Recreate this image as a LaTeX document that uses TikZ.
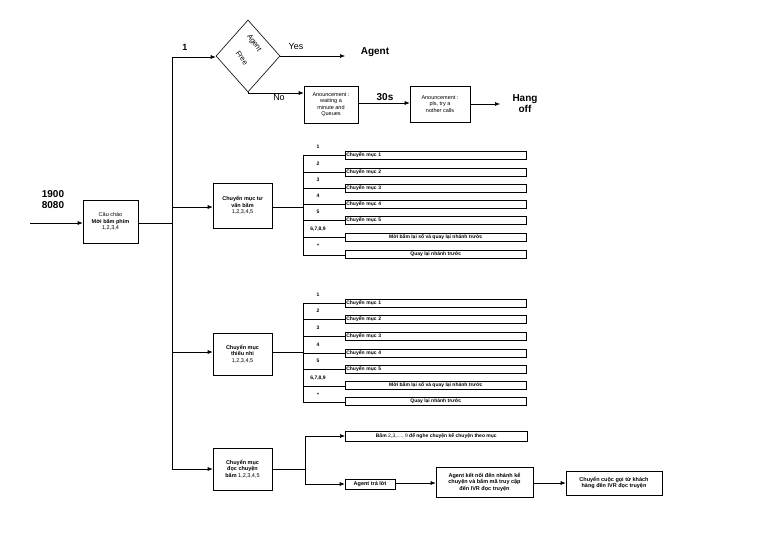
\documentclass[tikz,border=0pt]{standalone}
\usepackage{fontspec}
\setmainfont{Liberation Sans}
\usetikzlibrary{shapes.geometric,arrows.meta}
\begin{document}
\begin{tikzpicture}[x=1pt,y=-1pt,
  ln/.style={line width=0.6pt},
  ar/.style={ln,-{Latex[length=5pt,width=4pt]}},
  bx/.style={draw,line width=0.6pt,inner sep=1pt,align=center,font=\fontsize{5.5}{6.5}\selectfont},
  row/.style={draw,line width=0.6pt,minimum width=181,minimum height=8,inner sep=0pt,font=\fontsize{5}{5}\selectfont},
  big/.style={font=\bfseries\fontsize{10}{11}\selectfont,align=center},
  num/.style={font=\bfseries\fontsize{5}{5}\selectfont}]
\useasboundingbox (0,0) rectangle (768,543);
\node[big] (n1900) at (53,200) {1900\\8080};
\node[bx,minimum width=55,minimum height=43] (cau) at (110.5,221.5) {Câu chào\\\textbf{Mời bấm phím}\\1,2,3,4};
\coordinate (in) at (30,223);
\draw[ar] (in) -- (cau.west|-in);
\coordinate (t0) at (172,57); \coordinate (tm) at (172,223); \coordinate (t4) at (172,469);
\draw[ln] (cau.east|-tm) -- (tm);
\draw[ln] (t0) -- (t4);
% branch 1
\node[draw,diamond,line width=0.6pt,minimum width=64,minimum height=72,inner sep=0pt,aspect=0.9] (dia) at (248,56) {};
\node[rotate=-55,inner sep=0pt,font=\fontsize{7.5}{7.5}\selectfont] (ag) at (254,43) {Agent};
\node[rotate=-55,inner sep=0pt,font=\fontsize{7.5}{7.5}\selectfont] (fr) at (242,58) {Free};
\draw[ar] (t0) -- (dia.west|-t0);
\node[num,font=\bfseries\fontsize{9}{9}\selectfont] (l1) at (185,47) {1};
\coordinate (agt) at (345,56);
\draw[ar] (dia.east) -- (agt);
\node[font=\fontsize{9}{9}\selectfont] (yes) at (296,46) {Yes};
\node[big] (agent) at (375,52) {Agent};
\node[bx,minimum width=54,minimum height=37] (a1) at (331,104.5) {Anouncement :\\waiting a\\minute and\\Queues};
\node[bx,minimum width=60,minimum height=36] (a2) at (440,104) {Anouncement :\\pls, try a\\nother calls};
\draw[ar] (dia.south) |- (a1.west|-0,93);
\node[font=\fontsize{9}{9}\selectfont] (no) at (279,97) {No};
\draw[ar] (a1.east|-0,103) -- (a2.west|-0,103);
\node[big] (s30) at (385,97) {30s};
\coordinate (ho) at (500,104);
\draw[ar] (a2.east|-ho) -- (ho);
\node[big] (hang) at (525,104) {Hang\\off};
% branch 2
\node[bx,minimum width=59,minimum height=45] (tv) at (242.5,205.5) {\textbf{Chuyển mục tư}\\\textbf{vấn bấm}\\1,2,3,4,5};
\draw[ar] (172,207) -- (tv.west|-0,207);
\coordinate (v2) at (303,207);
\draw[ln] (tv.east|-v2) -- (v2);
\draw[ln] (303,155) -- (303,255);
\foreach \y/\l/\t [count=\i] in {155/1/Chuyển mục 1,172/2/Chuyển mục 2,188/3/Chuyển mục 3,204/4/Chuyển mục 4,220/5/Chuyển mục 5}{
  \node[row,anchor=north west,text width=179,align=left] (r2\i) at (345,\y-4) {\textbf{\t}};
  \draw[ln] (303,\y) -- (r2\i.west|-0,\y);
  \node[num] at (318,\y-8) {\l};}
\node[row,anchor=north west] (r26) at (345,233) {\textbf{Mời bấm lại số và quay lại nhánh trước}};
\draw[ln] (303,237) -- (r26.west|-0,237);
\node[num] at (318,229) {6,7,8,9};
\node[row,anchor=north west] (r27) at (345,250) {\textbf{Quay lại nhánh trước}};
\draw[ln] (303,255) -- (r27.west|-0,255);
\node[num] at (318,246) {*};
% branch 3
\node[bx,minimum width=59,minimum height=42] (tn) at (242.5,354) {\textbf{Chuyển mục}\\\textbf{thiếu nhi}\\1,2,3,4,5};
\draw[ar] (172,352) -- (tn.west|-0,352);
\coordinate (v3) at (303,352);
\draw[ln] (tn.east|-v3) -- (v3);
\draw[ln] (303,303) -- (303,402);
\foreach \y/\l/\t [count=\i] in {303/1/Chuyển mục 1,319/2/Chuyển mục 2,336/3/Chuyển mục 3,353/4/Chuyển mục 4,369/5/Chuyển mục 5}{
  \node[row,anchor=north west,text width=179,align=left] (r3\i) at (345,\y-4) {\textbf{\t}};
  \draw[ln] (303,\y) -- (r3\i.west|-0,\y);
  \node[num] at (318,\y-8) {\l};}
\node[row,anchor=north west] (r36) at (345,381) {\textbf{Mời bấm lại số và quay lại nhánh trước}};
\draw[ln] (303,386) -- (r36.west|-0,386);
\node[num] at (318,378) {6,7,8,9};
\node[row,anchor=north west] (r37) at (345,397) {\textbf{Quay lại nhánh trước}};
\draw[ln] (303,402) -- (r37.west|-0,402);
\node[num] at (318,395) {*};
% branch 4
\node[bx,minimum width=59,minimum height=42] (dc) at (242.5,469) {\textbf{Chuyển mục}\\\textbf{đọc chuyện}\\\textbf{bấm} 1,2,3,4,5};
\draw[ar] (t4) -- (dc.west|-t4);
\coordinate (v4) at (305,469);
\draw[ln] (dc.east|-v4) -- (v4);
\node[row,minimum width=182,minimum height=10,anchor=west] (bam) at (345,436) {\textbf{Bấm} 2,,3,...., 9 \textbf{để nghe chuyện kể chuyện theo mục}};
\node[bx,minimum width=50,minimum height=10,font=\bfseries\fontsize{5.5}{6}\selectfont] (agr) at (370,484) {Agent trả lời};
\draw[ar] (305,437) |- (bam.west);
\draw[ar] (305,437) |- (agr.west);
\node[bx,minimum width=97,minimum height=30,font=\bfseries\fontsize{5.5}{6.5}\selectfont] (akn) at (484.5,482) {Agent kết nối đến nhánh kể\\chuyện và bấm mã truy cập\\đến IVR đọc truyện};
\draw[ar] (agr.east|-0,483) -- (akn.west|-0,483);
\node[bx,minimum width=96,minimum height=24,font=\bfseries\fontsize{5.5}{6.5}\selectfont] (ccg) at (614,483) {Chuyển cuộc gọi từ khách\\hàng đến IVR đọc truyện};
\draw[ar] (akn.east|-0,483) -- (ccg.west|-0,483);
\end{tikzpicture}
\end{document}
